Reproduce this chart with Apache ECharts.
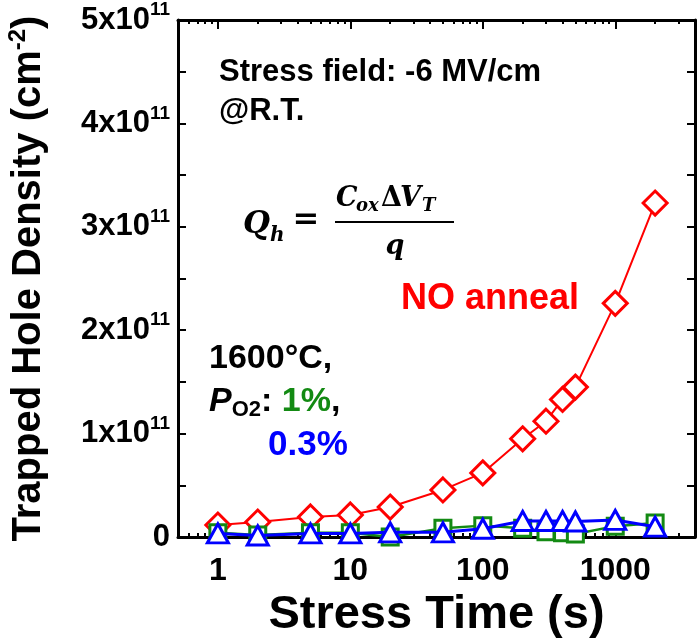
<!DOCTYPE html>
<html><head><meta charset="utf-8">
<script src="https://cdn.jsdelivr.net/npm/echarts@6/dist/echarts.min.js"></script>
<style>html,body{margin:0;padding:0;background:#fff}#c{width:700px;height:640px}</style>
</head><body><div id="c"></div>
<script>
// ---- data ----
const stressTime = [1, 2, 5, 10, 20, 50, 100, 200, 300, 400, 500, 1000, 2000];
const noAnneal   = [1.16e10, 1.45e10, 1.94e10, 2.13e10, 2.9e10, 4.55e10, 6.2e10, 9.5e10, 1.12e11, 1.33e11, 1.45e11, 2.26e11, 3.23e11];
const po2_1pct   = [4e9, 2e9, 4e9, 4e9, 0, 8.5e9, 1.1e10, 8.5e9, 5e9, 4e9, 3e9, 1.05e10, 1.35e10];
const po2_03pct  = [3.5e9, 1.5e9, 3.5e9, 3.5e9, 4.5e9, 4.5e9, 8e9, 1.55e10, 1.55e10, 1.55e10, 1.5e10, 1.65e10, 1.0e10];
const xMajorTicks = [1, 10, 100, 1000];
const xRange = [0.5, 4000];
const yTickMantissa = [0, 1, 2, 3, 4, 5];
const yExponent = 11;

const FONT = 'Liberation Sans, Arial, Helvetica, sans-serif';
const L = Math.log10;
const xMin = L(xRange[0]), xMax = L(xRange[1]);
const majorLog = xMajorTicks.map(L);
const minorLog = [];
for (let d = -1; d <= 3; d++) for (let m = 2; m <= 9; m++) {
  const v = m * Math.pow(10, d);
  if (v > xRange[0] && v < xRange[1]) minorLog.push(L(v));
}
const toPts = ys => stressTime.map((t, i) => [L(t), ys[i]]);

function xAxisDef(pos, ticks, len, showLine, showLabel) {
  return {
    type: 'value', position: pos, min: xMin, max: xMax,
    axisLine: { show: showLine, onZero: false, lineStyle: { color: '#000', width: 3 } },
    axisTick: { show: true, inside: true, length: len, customValues: ticks, lineStyle: { color: '#000', width: 2 } },
    axisLabel: showLabel ? {
      show: true, customValues: majorLog, margin: 18,
      formatter: v => String(Math.round(Math.pow(10, v))),
      color: '#000', fontWeight: 'bold', fontSize: 32, fontFamily: FONT
    } : { show: false },
    splitLine: { show: false }
  };
}

const yLabelFmt = v => {
  const m = v / Math.pow(10, yExponent);
  if (Math.abs(m - Math.round(m)) > 1e-6) return '';
  if (Math.round(m) === 0) return '{m|0}';
  return '{m|' + Math.round(m) + 'x10}{s|' + yExponent + '}';
};

function yAxisDef(pos, showLabel) {
  return {
    type: 'value', position: pos, min: 0, max: 5e11, interval: 5e10,
    axisLine: { show: true, onZero: false, lineStyle: { color: '#000', width: 3 } },
    axisTick: { show: true, inside: true, length: 8, lineStyle: { color: '#000', width: 2 } },
    axisLabel: showLabel ? {
      show: true, margin: 8, formatter: yLabelFmt,
      rich: {
        m: { fontSize: 31, fontWeight: 'bold', fontFamily: FONT, color: '#000' },
        s: { fontSize: 19, fontWeight: 'bold', fontFamily: FONT, color: '#000', padding: [0, 0, 20, 0] }
      }
    } : { show: false },
    splitLine: { show: false },
    name: showLabel ? '{n|Trapped Hole Density (cm}{s|-2}{n|)}' : '',
    nameLocation: 'middle', nameGap: 126, nameRotate: 90,
    nameTextStyle: {
      rich: {
        n: { fontSize: 40, fontWeight: 'bold', fontFamily: FONT, color: '#000' },
        s: { fontSize: 24, fontWeight: 'bold', fontFamily: FONT, color: '#000', padding: [0, 0, 22, 0] }
      }
    }
  };
}

const xa0 = xAxisDef('bottom', majorLog, 9, true, true);
xa0.name = 'Stress Time (s)';
xa0.nameLocation = 'middle';
xa0.nameGap = 40;
xa0.nameTextStyle = { fontSize: 47, fontWeight: 'bold', fontFamily: FONT, color: '#000' };

const SERIF = 'DejaVu Serif, Liberation Serif, serif';
function t(x, y, text, font, fill, align) {
  return { type: 'text', x: x, y: y, z: 50, style: { text: text, font: font, fill: fill || '#000', align: align || 'left', verticalAlign: 'middle' } };
}

const option = {
  backgroundColor: '#fff',
  animation: false,
  grid: { left: 178, right: 5, top: 20, bottom: 103, outerBoundsMode: 'none', containLabel: false },
  xAxis: [
    xa0,
    xAxisDef('bottom', minorLog, 4, false, false),
    xAxisDef('top', majorLog, 9, true, false),
    xAxisDef('top', minorLog, 4, false, false)
  ],
  yAxis: [yAxisDef('left', true), yAxisDef('right', false)],
  series: [
    {
      type: 'line', data: toPts(noAnneal), symbol: 'diamond', symbolSize: 24, z: 3,
      lineStyle: { color: '#ff0000', width: 2 },
      itemStyle: { color: '#fff', borderColor: '#ff0000', borderWidth: 3 }
    },
    {
      type: 'line', data: toPts(po2_1pct), symbol: 'rect', symbolSize: 16, z: 4,
      lineStyle: { color: '#138a13', width: 2.5 },
      itemStyle: { color: '#fff', borderColor: '#138a13', borderWidth: 3 }
    },
    {
      type: 'line', data: toPts(po2_03pct), symbol: 'triangle', symbolSize: [21, 19], z: 5,
      lineStyle: { color: '#0000ff', width: 3 },
      itemStyle: { color: '#fff', borderColor: '#0000ff', borderWidth: 3 }
    }
  ],
  graphic: [
    t(219, 72, 'Stress field: -6 MV/cm', 'bold 31px ' + FONT),
    t(219, 111, '@R.T.', 'bold 31px ' + FONT),
    // formula
    t(243, 225, 'Q', 'italic bold 31px ' + SERIF),
    t(270, 236, 'h', 'italic bold 20px ' + SERIF),
    t(306, 221, '=', 'bold 32px ' + SERIF, '#000', 'center'),
    t(336, 199, 'C', 'italic bold 27px ' + SERIF),
    t(356, 206, 'ox', 'italic bold 18px ' + SERIF),
    t(381, 199, 'Δ', 'bold 27px ' + SERIF),
    t(400, 199, 'V', 'italic bold 27px ' + SERIF),
    t(422, 206, 'T', 'italic bold 18px ' + SERIF),
    t(395, 247, 'q', 'italic bold 27px ' + SERIF, '#000', 'center'),
    { type: 'line', z: 50, shape: { x1: 335, y1: 222, x2: 454, y2: 222 }, style: { stroke: '#000', lineWidth: 2 } },
    t(401, 299, 'NO anneal', 'bold 36px ' + FONT, '#ff0000'),
    t(209, 359, '1600°C,', 'bold 34px ' + FONT),
    {
      type: 'text', x: 209, y: 402, z: 50,
      style: {
        text: '{p|P}{o|O2}{c|: }{g|1%}{c|,}', verticalAlign: 'middle',
        rich: {
          p: { font: 'italic bold 34px ' + FONT, fill: '#000' },
          o: { font: 'bold 22px ' + FONT, fill: '#000', padding: [16, 0, 0, 0], verticalAlign: 'top' },
          c: { font: 'bold 34px ' + FONT, fill: '#000' },
          g: { font: 'bold 34px ' + FONT, fill: '#138a13' }
        }
      }
    },
    t(268, 445, '0.3%', 'bold 35px ' + FONT, '#0000ff')
  ]
};
const chart = echarts.init(document.getElementById('c'), null, { renderer: 'canvas' });
chart.setOption(option);
</script></body></html>
